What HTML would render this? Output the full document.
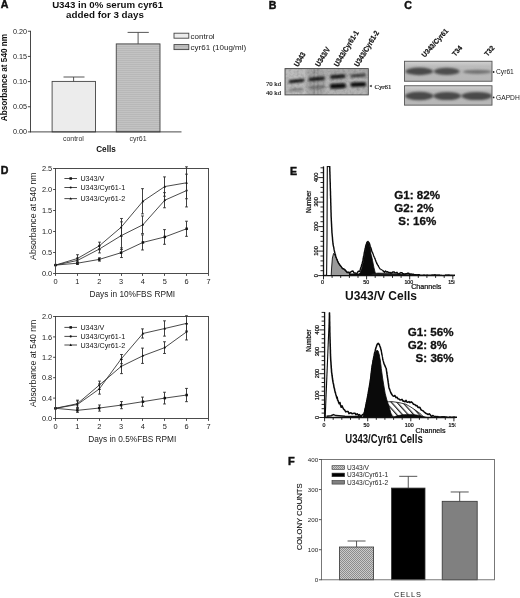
<!DOCTYPE html>
<html lang="en">
<head>
<meta charset="utf-8">
<title>Figure: Cyr61 promotes U343 glioma cell growth</title>
<style>
html,body{margin:0;padding:0;background:#fff;}
body{width:520px;height:598px;overflow:hidden;}
svg{display:block;}
svg text{font-family:"Liberation Sans", sans-serif;}
svg text.sf{font-family:"Liberation Serif", serif;}
</style>
</head>
<body>
<svg width="520" height="598" viewBox="0 0 520 598">
<defs>
<pattern id="hlines" width="2" height="2" patternUnits="userSpaceOnUse"><rect width="2" height="2" fill="#c3c3c3"/><rect y="0" width="2" height="1" fill="#b8b8b8"/></pattern>
<pattern id="xhatch" width="2" height="2" patternUnits="userSpaceOnUse"><rect width="2" height="2" fill="#cacaca"/><rect x="0" y="0" width="1" height="1" fill="#8c8c8c"/><rect x="1" y="1" width="1" height="1" fill="#8c8c8c"/></pattern>
<pattern id="diag" width="4.2" height="4.2" patternUnits="userSpaceOnUse" patternTransform="rotate(-42)"><rect width="4.2" height="4.2" fill="#fff"/><rect width="1.2" height="4.2" fill="#222"/></pattern>
<filter id="b1" x="-20%" y="-50%" width="140%" height="200%"><feGaussianBlur stdDeviation="1.1 0.9"/></filter>
<filter id="b2" x="-20%" y="-50%" width="140%" height="200%"><feGaussianBlur stdDeviation="1.6 1.2"/></filter>
<filter id="b05"><feGaussianBlur stdDeviation="0.45"/></filter>
<filter id="noise" x="0" y="0" width="100%" height="100%"><feTurbulence type="fractalNoise" baseFrequency="0.35" numOctaves="2" seed="7" result="n"/><feColorMatrix type="matrix" values="0 0 0 0 0  0 0 0 0 0  0 0 0 0 0  0.9 0 0 0 -0.35"/></filter>
<linearGradient id="gC" x1="0" y1="0" x2="0" y2="1"><stop offset="0" stop-color="#d2d2d2"/><stop offset="0.25" stop-color="#bcbcbc"/><stop offset="1" stop-color="#b6b6b6"/></linearGradient>
</defs>

<rect x="0" y="0" width="520" height="598" fill="#ffffff"/>
<g id="panelA">
<text x="0.7" y="8.2" font-size="10.6" font-weight="700" fill="#111" stroke="#111" stroke-width="0.45">A</text>
<text x="107.6" y="7.7" font-size="9.7" font-weight="700" text-anchor="middle" fill="#111">U343 in 0% serum cyr61</text>
<text x="105" y="18.2" font-size="9.8" font-weight="700" text-anchor="middle" fill="#111">added for 3 days</text>
<text x="6.9" y="77.6" font-size="8.2" font-weight="700" text-anchor="middle" fill="#111" transform="rotate(-90 6.9 77.6)">Absorbance at 540 nm</text>
<rect x="52.1" y="81.4" width="43.4" height="50.5" fill="#ececec" stroke="#444" stroke-width="0.9"/>
<rect x="116.25" y="43.9" width="43.75" height="88.0" fill="url(#hlines)" stroke="#444" stroke-width="0.9"/>
<line x1="73.6" y1="77" x2="73.6" y2="81.5" stroke="#444" stroke-width="0.9"/>
<line x1="63.5" y1="77" x2="84.5" y2="77" stroke="#444" stroke-width="0.9"/>
<line x1="138.1" y1="32.4" x2="138.1" y2="43.9" stroke="#444" stroke-width="0.9"/>
<line x1="127.6" y1="32.4" x2="148.8" y2="32.4" stroke="#444" stroke-width="0.9"/>
<line x1="30.5" y1="30.8" x2="30.5" y2="132.3" stroke="#333" stroke-width="0.9"/>
<line x1="30.1" y1="131.9" x2="181.5" y2="131.9" stroke="#333" stroke-width="0.9"/>
<line x1="27.9" y1="131.9" x2="30.5" y2="131.9" stroke="#333" stroke-width="0.9"/>
<text x="27.1" y="134.45" font-size="7.2" text-anchor="end" fill="#222">0.00</text>
<line x1="27.9" y1="106.74000000000001" x2="30.5" y2="106.74000000000001" stroke="#333" stroke-width="0.9"/>
<text x="27.1" y="109.29" font-size="7.2" text-anchor="end" fill="#222">0.05</text>
<line x1="27.9" y1="81.58000000000001" x2="30.5" y2="81.58000000000001" stroke="#333" stroke-width="0.9"/>
<text x="27.1" y="84.13" font-size="7.2" text-anchor="end" fill="#222">0.10</text>
<line x1="27.9" y1="56.42" x2="30.5" y2="56.42" stroke="#333" stroke-width="0.9"/>
<text x="27.1" y="58.97" font-size="7.2" text-anchor="end" fill="#222">0.15</text>
<line x1="27.9" y1="31.260000000000005" x2="30.5" y2="31.260000000000005" stroke="#333" stroke-width="0.9"/>
<text x="27.1" y="33.81" font-size="7.2" text-anchor="end" fill="#222">0.20</text>
<text x="73.4" y="141.2" font-size="7" text-anchor="middle" fill="#333">control</text>
<text x="138.1" y="141.2" font-size="7" text-anchor="middle" fill="#333">cyr61</text>
<text x="106" y="151.8" font-size="8.2" font-weight="700" text-anchor="middle" fill="#111">Cells</text>
<rect x="174" y="33.2" width="14.8" height="5" fill="#ececec" stroke="#444" stroke-width="0.9"/>
<rect x="174" y="44.6" width="14.8" height="5" fill="url(#hlines)" stroke="#444" stroke-width="0.9"/>
<text x="190.6" y="38.6" font-size="8" fill="#222">control</text>
<text x="190.6" y="50.2" font-size="8" fill="#222">cyr61 (10ug/ml)</text>
</g>
<g id="panelB">
<text x="268.7" y="8.6" font-size="10.6" font-weight="700" fill="#111" stroke="#111" stroke-width="0.45">B</text>
<text font-size="7.7" font-weight="700" fill="#111" stroke="#111" stroke-width="0.2" transform="translate(298 67.2) rotate(-58.5) scale(0.83 1)">U343</text>
<text font-size="7.7" font-weight="700" fill="#111" stroke="#111" stroke-width="0.2" transform="translate(319.3 67.2) rotate(-58.5) scale(0.83 1)">U343/V</text>
<text font-size="7.7" font-weight="700" fill="#111" stroke="#111" stroke-width="0.2" transform="translate(337.9 67.2) rotate(-58.5) scale(0.83 1)">U343/Cyr61-1</text>
<text font-size="7.7" font-weight="700" fill="#111" stroke="#111" stroke-width="0.2" transform="translate(358.3 67.2) rotate(-58.5) scale(0.83 1)">U343/Cyr61-2</text>
<clipPath id="clipB"><rect x="285" y="68.6" width="83.30000000000001" height="26.30000000000001"/></clipPath>
<rect x="285" y="68.6" width="83.30000000000001" height="26.30000000000001" fill="#b4b4b4" stroke="none" stroke-width="1"/>
<g clip-path="url(#clipB)">
<rect x="286" y="69" width="20" height="26" fill="#bdbdbd" stroke="none" stroke-width="1" filter="url(#b2)"/>
<rect x="307" y="69" width="18" height="26" fill="#a6a6a6" stroke="none" stroke-width="1" filter="url(#b2)"/>
<rect x="313.5" y="69" width="1.2" height="26" fill="#8e8e8e" stroke="none" stroke-width="1" filter="url(#b05)"/>
<rect x="317.3" y="69" width="1.2" height="26" fill="#929292" stroke="none" stroke-width="1" filter="url(#b05)"/>
<rect x="328" y="69" width="40" height="9" fill="#a9a9a9" stroke="none" stroke-width="1" filter="url(#b2)"/>
<rect x="288.5" y="79.2" width="16.0" height="3.6" rx="1.8" fill="#1a1a1a" opacity="1" filter="url(#b1)" transform="rotate(-6 296.5 81)"/>
<rect x="288.5" y="88.3" width="15.0" height="3.0" rx="1.5" fill="#787878" opacity="0.9" filter="url(#b2)" transform="rotate(-4 296.0 89.8)"/>
<rect x="308.5" y="76.89999999999999" width="16.5" height="3.8" rx="1.9" fill="#1a1a1a" opacity="1" filter="url(#b1)" transform="rotate(-5 316.75 78.8)"/>
<rect x="309" y="85.7" width="15.5" height="3.0" rx="1.5" fill="#686868" opacity="0.9" filter="url(#b2)" transform="rotate(-4 316.75 87.2)"/>
<rect x="330" y="74.69999999999999" width="15.5" height="3.8" rx="1.9" fill="#141414" opacity="1" filter="url(#b1)" transform="rotate(-5 337.75 76.6)"/>
<rect x="329.8" y="83.5" width="16.19999999999999" height="5.0" rx="2.5" fill="#080808" opacity="1" filter="url(#b1)" transform="rotate(-3 337.9 86)"/>
<rect x="350.4" y="73.9" width="15.600000000000023" height="3.0" rx="1.5" fill="#3a3a3a" opacity="1" filter="url(#b1)" transform="rotate(-4 358.2 75.4)"/>
<rect x="350.4" y="82.3" width="15.800000000000011" height="4.4" rx="2.2" fill="#0a0a0a" opacity="1" filter="url(#b1)" transform="rotate(-2 358.29999999999995 84.5)"/>
<rect x="285" y="68.6" width="83.30000000000001" height="26.30000000000001" fill="#888" stroke="none" stroke-width="1" filter="url(#noise)" opacity="0.3"/>
</g>
<rect x="285" y="68.6" width="83.30000000000001" height="26.30000000000001" fill="none" stroke="#444" stroke-width="0.9"/>
<text x="266" y="85.6" font-size="6.7" fill="#111" class="sf" stroke="#111" stroke-width="0.15">70 kd</text>
<text x="266" y="95.4" font-size="6.7" fill="#111" class="sf" stroke="#111" stroke-width="0.15">40 kd</text>
<path d="M369.4 86 L371.6 84.8 L371.6 87.2 Z" fill="#111"/>
<text x="374.4" y="89" font-size="6.8" fill="#111" class="sf" stroke="#111" stroke-width="0.15">Cyr61</text>
</g>
<g id="panelC">
<text x="404.3" y="8.6" font-size="10.6" font-weight="700" fill="#111" stroke="#111" stroke-width="0.45">C</text>
<text font-size="7.2" font-weight="700" fill="#111" stroke="#111" stroke-width="0.2" transform="translate(424.8 57.8) rotate(-48) scale(0.91 1)">U343/Cyr61</text>
<text font-size="7.2" font-weight="700" fill="#111" stroke="#111" stroke-width="0.2" transform="translate(455.2 56.8) rotate(-48) scale(0.91 1)">T34</text>
<text font-size="7.2" font-weight="700" fill="#111" stroke="#111" stroke-width="0.2" transform="translate(487.4 56.8) rotate(-48) scale(0.91 1)">T32</text>
<clipPath id="clipC1"><rect x="404.5" y="61.25" width="87.5" height="20"/></clipPath>
<clipPath id="clipC2"><rect x="404.5" y="85.75" width="87.5" height="19.4"/></clipPath>
<rect x="404.5" y="61.25" width="87.5" height="20" fill="url(#gC)" stroke="none" stroke-width="1"/>
<g clip-path="url(#clipC1)">
<ellipse cx="419.25" cy="71.4" rx="13.75" ry="3.8000000000000003" fill="#4a4a4a" opacity="1" filter="url(#b2)"/>
<ellipse cx="446.75" cy="71.4" rx="12.75" ry="3.6" fill="#4e4e4e" opacity="1" filter="url(#b2)"/>
<ellipse cx="477.25" cy="71.8" rx="14.25" ry="2.1" fill="#6c6c6c" opacity="0.9" filter="url(#b2)"/>
</g>
<rect x="404.5" y="61.25" width="87.5" height="20" fill="none" stroke="#555" stroke-width="0.9"/>
<rect x="404.5" y="85.75" width="87.5" height="19.4" fill="url(#gC)" stroke="none" stroke-width="1"/>
<g clip-path="url(#clipC2)">
<ellipse cx="419.25" cy="96" rx="14.25" ry="4.2" fill="#484848" opacity="1" filter="url(#b2)"/>
<ellipse cx="447.25" cy="96" rx="13.75" ry="4.1" fill="#4a4a4a" opacity="1" filter="url(#b2)"/>
<ellipse cx="476.75" cy="96" rx="15.25" ry="4.1" fill="#484848" opacity="1" filter="url(#b2)"/>
</g>
<rect x="404.5" y="85.75" width="87.5" height="19.4" fill="none" stroke="#555" stroke-width="0.9"/>
<circle cx="493.6" cy="72" r="0.9" fill="#222"/>
<text x="496" y="74.4" font-size="6.7" fill="#222">Cyr61</text>
<circle cx="493.6" cy="97.4" r="0.9" fill="#222"/>
<text x="496" y="99.9" font-size="6.7" fill="#222">GAPDH</text>
</g>
<g id="panelD">
<text x="0.8" y="174.1" font-size="10.6" font-weight="700" fill="#111" stroke="#111" stroke-width="0.45">D</text>
<g id="chartD1">
<polyline points="55.50,265.10 77.36,263.21 99.21,259.43 121.07,252.71 142.93,242.42 164.79,236.96 186.64,228.77" fill="none" stroke="#2a2a2a" stroke-width="0.85"/>
<path d="M77.50 261.95V264.47M76.10 261.95h2.8M76.10 264.47h2.8" stroke="#2a2a2a" stroke-width="0.9" fill="none"/>
<path d="M99.50 257.75V261.11M98.10 257.75h2.8M98.10 261.11h2.8" stroke="#2a2a2a" stroke-width="0.9" fill="none"/>
<path d="M121.50 247.88V257.54M120.10 247.88h2.8M120.10 257.54h2.8" stroke="#2a2a2a" stroke-width="0.9" fill="none"/>
<path d="M142.50 234.86V249.98M141.10 234.86h2.8M141.10 249.98h2.8" stroke="#2a2a2a" stroke-width="0.9" fill="none"/>
<path d="M164.50 229.61V244.31M163.10 229.61h2.8M163.10 244.31h2.8" stroke="#2a2a2a" stroke-width="0.9" fill="none"/>
<path d="M186.50 221.21V236.33M185.10 221.21h2.8M185.10 236.33h2.8" stroke="#2a2a2a" stroke-width="0.9" fill="none"/>
<rect x="54.25" y="263.85" width="2.5" height="2.5" fill="#111"/>
<rect x="76.11" y="261.96" width="2.5" height="2.5" fill="#111"/>
<rect x="97.96" y="258.18" width="2.5" height="2.5" fill="#111"/>
<rect x="119.82" y="251.46" width="2.5" height="2.5" fill="#111"/>
<rect x="141.68" y="241.17" width="2.5" height="2.5" fill="#111"/>
<rect x="163.54" y="235.71" width="2.5" height="2.5" fill="#111"/>
<rect x="185.39" y="227.52" width="2.5" height="2.5" fill="#111"/>
<polyline points="55.50,265.10 77.36,260.48 99.21,249.14 121.07,235.70 142.93,224.78 164.79,200.21 186.64,190.55" fill="none" stroke="#2a2a2a" stroke-width="0.85"/>
<path d="M77.50 257.96V263.00M76.10 257.96h2.8M76.10 263.00h2.8" stroke="#2a2a2a" stroke-width="0.9" fill="none"/>
<path d="M99.50 245.36V252.92M98.10 245.36h2.8M98.10 252.92h2.8" stroke="#2a2a2a" stroke-width="0.9" fill="none"/>
<path d="M121.50 221.84V249.56M120.10 221.84h2.8M120.10 249.56h2.8" stroke="#2a2a2a" stroke-width="0.9" fill="none"/>
<path d="M142.50 215.96V233.60M141.10 215.96h2.8M141.10 233.60h2.8" stroke="#2a2a2a" stroke-width="0.9" fill="none"/>
<path d="M164.50 192.65V207.77M163.10 192.65h2.8M163.10 207.77h2.8" stroke="#2a2a2a" stroke-width="0.9" fill="none"/>
<path d="M186.50 174.17V206.93M185.10 174.17h2.8M185.10 206.93h2.8" stroke="#2a2a2a" stroke-width="0.9" fill="none"/>
<circle cx="55.50" cy="265.10" r="1.05" fill="#111"/>
<circle cx="77.36" cy="260.48" r="1.05" fill="#111"/>
<circle cx="99.21" cy="249.14" r="1.05" fill="#111"/>
<circle cx="121.07" cy="235.70" r="1.05" fill="#111"/>
<circle cx="142.93" cy="224.78" r="1.05" fill="#111"/>
<circle cx="164.79" cy="200.21" r="1.05" fill="#111"/>
<circle cx="186.64" cy="190.55" r="1.05" fill="#111"/>
<polyline points="55.50,265.10 77.36,258.51 99.21,245.95 121.07,227.30 142.93,201.26 164.79,186.56 186.64,182.78" fill="none" stroke="#2a2a2a" stroke-width="0.85"/>
<path d="M77.50 254.73V262.29M76.10 254.73h2.8M76.10 262.29h2.8" stroke="#2a2a2a" stroke-width="0.9" fill="none"/>
<path d="M99.50 242.17V249.73M98.10 242.17h2.8M98.10 249.73h2.8" stroke="#2a2a2a" stroke-width="0.9" fill="none"/>
<path d="M121.50 218.48V236.12M120.10 218.48h2.8M120.10 236.12h2.8" stroke="#2a2a2a" stroke-width="0.9" fill="none"/>
<path d="M142.50 188.66V213.86M141.10 188.66h2.8M141.10 213.86h2.8" stroke="#2a2a2a" stroke-width="0.9" fill="none"/>
<path d="M164.50 176.90V196.22M163.10 176.90h2.8M163.10 196.22h2.8" stroke="#2a2a2a" stroke-width="0.9" fill="none"/>
<path d="M186.50 166.82V198.74M185.10 166.82h2.8M185.10 198.74h2.8" stroke="#2a2a2a" stroke-width="0.9" fill="none"/>
<path d="M55.50 263.70l1.3 2.4h-2.6z" fill="#111"/>
<path d="M77.36 257.11l1.3 2.4h-2.6z" fill="#111"/>
<path d="M99.21 244.55l1.3 2.4h-2.6z" fill="#111"/>
<path d="M121.07 225.90l1.3 2.4h-2.6z" fill="#111"/>
<path d="M142.93 199.86l1.3 2.4h-2.6z" fill="#111"/>
<path d="M164.79 185.16l1.3 2.4h-2.6z" fill="#111"/>
<path d="M186.64 181.38l1.3 2.4h-2.6z" fill="#111"/>
<rect x="55.5" y="168.5" width="153.0" height="105.0" fill="none" stroke="#3a3a3a" stroke-width="0.9"/>
<line x1="53.1" y1="273.5" x2="55.5" y2="273.5" stroke="#3a3a3a" stroke-width="0.9"/>
<text x="52.2" y="276.1" font-size="7.4" text-anchor="end" fill="#222">0.0</text>
<line x1="53.1" y1="252.5" x2="55.5" y2="252.5" stroke="#3a3a3a" stroke-width="0.9"/>
<text x="52.2" y="255.1" font-size="7.4" text-anchor="end" fill="#222">0.5</text>
<line x1="53.1" y1="231.5" x2="55.5" y2="231.5" stroke="#3a3a3a" stroke-width="0.9"/>
<text x="52.2" y="234.1" font-size="7.4" text-anchor="end" fill="#222">1.0</text>
<line x1="53.1" y1="210.5" x2="55.5" y2="210.5" stroke="#3a3a3a" stroke-width="0.9"/>
<text x="52.2" y="213.1" font-size="7.4" text-anchor="end" fill="#222">1.5</text>
<line x1="53.1" y1="189.5" x2="55.5" y2="189.5" stroke="#3a3a3a" stroke-width="0.9"/>
<text x="52.2" y="192.1" font-size="7.4" text-anchor="end" fill="#222">2.0</text>
<line x1="53.1" y1="168.5" x2="55.5" y2="168.5" stroke="#3a3a3a" stroke-width="0.9"/>
<text x="52.2" y="171.1" font-size="7.4" text-anchor="end" fill="#222">2.5</text>
<line x1="55.5" y1="273.5" x2="55.5" y2="275.9" stroke="#3a3a3a" stroke-width="0.9"/>
<text x="55.5" y="284.2" font-size="7.4" text-anchor="middle" fill="#222">0</text>
<line x1="77.5" y1="273.5" x2="77.5" y2="275.9" stroke="#3a3a3a" stroke-width="0.9"/>
<text x="77.36" y="284.2" font-size="7.4" text-anchor="middle" fill="#222">1</text>
<line x1="99.5" y1="273.5" x2="99.5" y2="275.9" stroke="#3a3a3a" stroke-width="0.9"/>
<text x="99.21" y="284.2" font-size="7.4" text-anchor="middle" fill="#222">2</text>
<line x1="121.5" y1="273.5" x2="121.5" y2="275.9" stroke="#3a3a3a" stroke-width="0.9"/>
<text x="121.07" y="284.2" font-size="7.4" text-anchor="middle" fill="#222">3</text>
<line x1="142.5" y1="273.5" x2="142.5" y2="275.9" stroke="#3a3a3a" stroke-width="0.9"/>
<text x="142.93" y="284.2" font-size="7.4" text-anchor="middle" fill="#222">4</text>
<line x1="164.5" y1="273.5" x2="164.5" y2="275.9" stroke="#3a3a3a" stroke-width="0.9"/>
<text x="164.79" y="284.2" font-size="7.4" text-anchor="middle" fill="#222">5</text>
<line x1="186.5" y1="273.5" x2="186.5" y2="275.9" stroke="#3a3a3a" stroke-width="0.9"/>
<text x="186.64" y="284.2" font-size="7.4" text-anchor="middle" fill="#222">6</text>
<line x1="208.5" y1="273.5" x2="208.5" y2="275.9" stroke="#3a3a3a" stroke-width="0.9"/>
<text x="208.5" y="284.2" font-size="7.4" text-anchor="middle" fill="#222">7</text>
<text x="132.3" y="297.2" font-size="8.3" text-anchor="middle" fill="#222">Days in 10%FBS RPMI</text>
<text x="36.3" y="216.2" font-size="8.7" text-anchor="middle" fill="#222" transform="rotate(-90 36.3 216.2)">Absorbance at 540 nm</text>
<line x1="64.4" y1="178.5" x2="77" y2="178.5" stroke="#2a2a2a" stroke-width="0.85"/>
<rect x="69.45" y="177.25" width="2.5" height="2.5" fill="#111"/>
<text x="80.4" y="181.1" font-size="7.2" fill="#111">U343/V</text>
<line x1="64.4" y1="187.5" x2="77" y2="187.5" stroke="#2a2a2a" stroke-width="0.85"/>
<circle cx="70.70" cy="187.50" r="1.05" fill="#111"/>
<text x="80.4" y="190.1" font-size="7.2" fill="#111">U343/Cyr61-1</text>
<line x1="64.4" y1="198.6" x2="77" y2="198.6" stroke="#2a2a2a" stroke-width="0.85"/>
<path d="M70.70 197.20l1.3 2.4h-2.6z" fill="#111"/>
<text x="80.4" y="201.2" font-size="7.2" fill="#111">U343/Cyr61-2</text>
</g>
<g id="chartD2">
<polyline points="55.50,408.30 77.36,410.34 99.21,408.05 121.07,405.14 142.93,401.67 164.79,398.10 186.64,395.04" fill="none" stroke="#2a2a2a" stroke-width="0.85"/>
<path d="M77.50 408.30V412.38M76.10 408.30h2.8M76.10 412.38h2.8" stroke="#2a2a2a" stroke-width="0.9" fill="none"/>
<path d="M99.50 404.99V411.11M98.10 404.99h2.8M98.10 411.11h2.8" stroke="#2a2a2a" stroke-width="0.9" fill="none"/>
<path d="M121.50 401.57V408.71M120.10 401.57h2.8M120.10 408.71h2.8" stroke="#2a2a2a" stroke-width="0.9" fill="none"/>
<path d="M142.50 397.08V406.26M141.10 397.08h2.8M141.10 406.26h2.8" stroke="#2a2a2a" stroke-width="0.9" fill="none"/>
<path d="M164.50 392.24V403.96M163.10 392.24h2.8M163.10 403.96h2.8" stroke="#2a2a2a" stroke-width="0.9" fill="none"/>
<path d="M186.50 388.41V401.67M185.10 388.41h2.8M185.10 401.67h2.8" stroke="#2a2a2a" stroke-width="0.9" fill="none"/>
<rect x="54.25" y="407.05" width="2.5" height="2.5" fill="#111"/>
<rect x="76.11" y="409.09" width="2.5" height="2.5" fill="#111"/>
<rect x="97.96" y="406.80" width="2.5" height="2.5" fill="#111"/>
<rect x="119.82" y="403.89" width="2.5" height="2.5" fill="#111"/>
<rect x="141.68" y="400.42" width="2.5" height="2.5" fill="#111"/>
<rect x="163.54" y="396.85" width="2.5" height="2.5" fill="#111"/>
<rect x="185.39" y="393.79" width="2.5" height="2.5" fill="#111"/>
<polyline points="55.50,408.30 77.36,403.71 99.21,385.20 121.07,366.48 142.93,355.77 164.79,347.61 186.64,331.80" fill="none" stroke="#2a2a2a" stroke-width="0.85"/>
<path d="M77.50 400.14V407.28M76.10 400.14h2.8M76.10 407.28h2.8" stroke="#2a2a2a" stroke-width="0.9" fill="none"/>
<path d="M99.50 381.12V389.28M98.10 381.12h2.8M98.10 389.28h2.8" stroke="#2a2a2a" stroke-width="0.9" fill="none"/>
<path d="M121.50 359.34V373.62M120.10 359.34h2.8M120.10 373.62h2.8" stroke="#2a2a2a" stroke-width="0.9" fill="none"/>
<path d="M142.50 348.12V363.42M141.10 348.12h2.8M141.10 363.42h2.8" stroke="#2a2a2a" stroke-width="0.9" fill="none"/>
<path d="M164.50 341.75V353.48M163.10 341.75h2.8M163.10 353.48h2.8" stroke="#2a2a2a" stroke-width="0.9" fill="none"/>
<path d="M186.50 323.64V339.96M185.10 323.64h2.8M185.10 339.96h2.8" stroke="#2a2a2a" stroke-width="0.9" fill="none"/>
<circle cx="55.50" cy="408.30" r="1.05" fill="#111"/>
<circle cx="77.36" cy="403.71" r="1.05" fill="#111"/>
<circle cx="99.21" cy="385.20" r="1.05" fill="#111"/>
<circle cx="121.07" cy="366.48" r="1.05" fill="#111"/>
<circle cx="142.93" cy="355.77" r="1.05" fill="#111"/>
<circle cx="164.79" cy="347.61" r="1.05" fill="#111"/>
<circle cx="186.64" cy="331.80" r="1.05" fill="#111"/>
<polyline points="55.50,408.30 77.36,404.53 99.21,389.02 121.07,359.08 142.93,333.48 164.79,328.49 186.64,323.38" fill="none" stroke="#2a2a2a" stroke-width="0.85"/>
<path d="M77.50 400.96V408.10M76.10 400.96h2.8M76.10 408.10h2.8" stroke="#2a2a2a" stroke-width="0.9" fill="none"/>
<path d="M99.50 383.92V394.12M98.10 383.92h2.8M98.10 394.12h2.8" stroke="#2a2a2a" stroke-width="0.9" fill="none"/>
<path d="M121.50 354.50V363.68M120.10 354.50h2.8M120.10 363.68h2.8" stroke="#2a2a2a" stroke-width="0.9" fill="none"/>
<path d="M142.50 328.89V338.07M141.10 328.89h2.8M141.10 338.07h2.8" stroke="#2a2a2a" stroke-width="0.9" fill="none"/>
<path d="M164.50 320.84V336.13M163.10 320.84h2.8M163.10 336.13h2.8" stroke="#2a2a2a" stroke-width="0.9" fill="none"/>
<path d="M186.50 315.74V331.03M185.10 315.74h2.8M185.10 331.03h2.8" stroke="#2a2a2a" stroke-width="0.9" fill="none"/>
<path d="M55.50 406.90l1.3 2.4h-2.6z" fill="#111"/>
<path d="M77.36 403.13l1.3 2.4h-2.6z" fill="#111"/>
<path d="M99.21 387.62l1.3 2.4h-2.6z" fill="#111"/>
<path d="M121.07 357.69l1.3 2.4h-2.6z" fill="#111"/>
<path d="M142.93 332.08l1.3 2.4h-2.6z" fill="#111"/>
<path d="M164.79 327.09l1.3 2.4h-2.6z" fill="#111"/>
<path d="M186.64 321.99l1.3 2.4h-2.6z" fill="#111"/>
<rect x="55.5" y="316.5" width="153.0" height="102.0" fill="none" stroke="#3a3a3a" stroke-width="0.9"/>
<line x1="53.1" y1="418.5" x2="55.5" y2="418.5" stroke="#3a3a3a" stroke-width="0.9"/>
<text x="52.2" y="421.1" font-size="7.4" text-anchor="end" fill="#222">0.0</text>
<line x1="53.1" y1="398.1" x2="55.5" y2="398.1" stroke="#3a3a3a" stroke-width="0.9"/>
<text x="52.2" y="400.7" font-size="7.4" text-anchor="end" fill="#222">0.4</text>
<line x1="53.1" y1="377.7" x2="55.5" y2="377.7" stroke="#3a3a3a" stroke-width="0.9"/>
<text x="52.2" y="380.3" font-size="7.4" text-anchor="end" fill="#222">0.8</text>
<line x1="53.1" y1="357.3" x2="55.5" y2="357.3" stroke="#3a3a3a" stroke-width="0.9"/>
<text x="52.2" y="359.9" font-size="7.4" text-anchor="end" fill="#222">1.2</text>
<line x1="53.1" y1="336.9" x2="55.5" y2="336.9" stroke="#3a3a3a" stroke-width="0.9"/>
<text x="52.2" y="339.5" font-size="7.4" text-anchor="end" fill="#222">1.6</text>
<line x1="53.1" y1="316.5" x2="55.5" y2="316.5" stroke="#3a3a3a" stroke-width="0.9"/>
<text x="52.2" y="319.1" font-size="7.4" text-anchor="end" fill="#222">2.0</text>
<line x1="55.5" y1="418.5" x2="55.5" y2="420.9" stroke="#3a3a3a" stroke-width="0.9"/>
<text x="55.5" y="429.2" font-size="7.4" text-anchor="middle" fill="#222">0</text>
<line x1="77.5" y1="418.5" x2="77.5" y2="420.9" stroke="#3a3a3a" stroke-width="0.9"/>
<text x="77.36" y="429.2" font-size="7.4" text-anchor="middle" fill="#222">1</text>
<line x1="99.5" y1="418.5" x2="99.5" y2="420.9" stroke="#3a3a3a" stroke-width="0.9"/>
<text x="99.21" y="429.2" font-size="7.4" text-anchor="middle" fill="#222">2</text>
<line x1="121.5" y1="418.5" x2="121.5" y2="420.9" stroke="#3a3a3a" stroke-width="0.9"/>
<text x="121.07" y="429.2" font-size="7.4" text-anchor="middle" fill="#222">3</text>
<line x1="142.5" y1="418.5" x2="142.5" y2="420.9" stroke="#3a3a3a" stroke-width="0.9"/>
<text x="142.93" y="429.2" font-size="7.4" text-anchor="middle" fill="#222">4</text>
<line x1="164.5" y1="418.5" x2="164.5" y2="420.9" stroke="#3a3a3a" stroke-width="0.9"/>
<text x="164.79" y="429.2" font-size="7.4" text-anchor="middle" fill="#222">5</text>
<line x1="186.5" y1="418.5" x2="186.5" y2="420.9" stroke="#3a3a3a" stroke-width="0.9"/>
<text x="186.64" y="429.2" font-size="7.4" text-anchor="middle" fill="#222">6</text>
<line x1="208.5" y1="418.5" x2="208.5" y2="420.9" stroke="#3a3a3a" stroke-width="0.9"/>
<text x="208.5" y="429.2" font-size="7.4" text-anchor="middle" fill="#222">7</text>
<text x="132.3" y="442" font-size="8.3" text-anchor="middle" fill="#222">Days in 0.5%FBS RPMI</text>
<text x="36.3" y="363.4" font-size="8.7" text-anchor="middle" fill="#222" transform="rotate(-90 36.3 363.4)">Absorbance at 540 nm</text>
<line x1="64.4" y1="327.4" x2="77" y2="327.4" stroke="#2a2a2a" stroke-width="0.85"/>
<rect x="69.45" y="326.15" width="2.5" height="2.5" fill="#111"/>
<text x="80.4" y="330.0" font-size="7.2" fill="#111">U343/V</text>
<line x1="64.4" y1="336.4" x2="77" y2="336.4" stroke="#2a2a2a" stroke-width="0.85"/>
<circle cx="70.70" cy="336.40" r="1.05" fill="#111"/>
<text x="80.4" y="339.0" font-size="7.2" fill="#111">U343/Cyr61-1</text>
<line x1="64.4" y1="345" x2="77" y2="345" stroke="#2a2a2a" stroke-width="0.85"/>
<path d="M70.70 343.60l1.3 2.4h-2.6z" fill="#111"/>
<text x="80.4" y="347.6" font-size="7.2" fill="#111">U343/Cyr61-2</text>
</g>
</g>
<g id="panelE">
<text x="290" y="174.9" font-size="10.6" font-weight="700" fill="#111" stroke="#111" stroke-width="0.45">E</text>
<clipPath id="clipE1"><rect x="322" y="166.1" width="134" height="110.2"/></clipPath>
<g clip-path="url(#clipE1)" stroke-linejoin="round">
<path d="M331.2 275.6 L331.6 268.0 L332.4 258.0 L333.6 253.4 L335.0 255.2 L336.5 258.5 L338.2 262.4 L340.5 266.0 L343.5 269.4 L347.0 272.0 L350.0 273.8 L352.5 275.0 L352.5 275.6Z" fill="#9a9a9a" stroke="#111" stroke-width="0.9"/>
<path d="M358.6 275.2 L360.2 272.5 L361.8 268.4 L363.2 262.4 L364.6 254.4 L365.8 247.6 L366.8 243.6 L367.8 242.2 L368.9 243.6 L370.0 247.6 L371.3 253.8 L372.6 260.8 L373.9 267.4 L375.0 272.0 L376.2 275.2Z" fill="#0a0a0a" stroke="#0a0a0a" stroke-width="0.8"/>
<path d="M349 274.6H360" stroke="#0a0a0a" stroke-width="2"/>
<path d="M370.0 275.2 L373.0 273.6 L378.0 273.0 L386.0 273.2 L396.0 273.8 L408.0 274.6 L414.0 275.2Z" fill="#222" stroke="#111" stroke-width="0.6"/>
<path d="M327.2 166.6H329.8" stroke="#0a0a0a" stroke-width="1"/>
<path d="M324.4 275.4L326.6 275L327 240L327.3 166L327.4 150" fill="none" stroke="#0a0a0a" stroke-width="1.1"/>
<path d="M329.3 150.0 L329.3 150.8 L329.4 152.0 L329.4 152.9 L329.4 154.1 L329.4 155.1 L329.4 155.7 L329.5 156.7 L329.5 158.2 L329.5 158.9 L329.6 159.8 L329.6 161.3 L329.6 162.0 L329.6 163.2 L329.6 164.0 L329.7 165.1 L329.7 166.0 L329.7 166.8 L329.8 168.1 L329.8 169.2 L329.8 170.0 L329.8 171.1 L329.9 172.1 L329.9 172.7 L329.9 174.2 L330.0 175.1 L330.0 175.9 L330.0 176.7 L330.0 178.2 L330.1 179.0 L330.1 180.1 L330.1 181.2 L330.2 182.1 L330.2 183.3 L330.2 183.9 L330.3 185.2 L330.3 186.0 L330.3 187.3 L330.3 188.2 L330.4 188.8 L330.4 190.0 L330.4 190.8 L330.5 191.8 L330.5 193.3 L330.5 194.0 L330.5 195.1 L330.6 195.9 L330.6 197.0 L330.6 197.9 L330.7 198.9 L330.7 200.1 L330.7 201.1 L330.7 202.2 L330.8 203.1 L330.8 204.3 L330.8 205.2 L330.9 206.3 L330.9 207.1 L330.9 207.8 L330.9 209.2 L331.0 210.3 L331.0 211.2 L331.0 212.0 L331.1 213.1 L331.1 213.8 L331.1 215.2 L331.1 216.0 L331.2 216.9 L331.2 218.0 L331.3 218.7 L331.3 220.2 L331.4 221.3 L331.4 221.8 L331.5 223.2 L331.5 223.9 L331.6 224.8 L331.6 225.9 L331.7 227.2 L331.7 228.2 L331.8 228.7 L331.8 230.1 L331.9 230.7 L331.9 232.1 L332.0 233.0 L332.1 233.9 L332.2 235.2 L332.3 236.3 L332.4 237.0 L332.5 238.3 L332.5 238.9 L332.6 239.7 L332.7 241.1 L332.8 241.7 L332.9 242.8 L333.0 244.0 L333.2 244.9 L333.4 246.1 L333.6 246.8 L333.8 247.7 L334.0 249.2 L334.2 249.9 L334.4 251.0 L334.7 252.3 L334.9 253.2 L335.2 253.9 L335.5 255.0 L335.7 256.0 L336.0 257.0 L336.4 258.1 L336.8 259.1 L337.2 260.0 L337.6 261.1 L338.0 262.0 L338.7 263.5 L339.5 264.4 L340.2 265.6 L341.1 266.5 L342.1 268.2 L343.0 268.8 L344.0 269.0 L345.0 269.8 L346.0 271.0 L347.2 272.6 L348.3 272.1 L349.5 272.6 L350.8 272.0 L352.0 271.2 L353.0 271.0 L354.0 273.0 L355.0 272.9 L356.0 273.4 L357.0 273.4 L358.2 271.3 L359.5 271.4 L359.9 270.5 L360.4 269.2 L360.8 267.7 L361.2 266.8 L361.5 265.7 L361.8 264.5 L362.2 263.4 L362.5 262.1 L362.8 261.0 L363.0 260.0 L363.2 259.0 L363.4 257.5 L363.6 256.4 L363.8 255.7 L364.0 254.8 L364.2 253.4 L364.4 252.1 L364.7 251.1 L364.9 250.1 L365.1 248.8 L365.4 247.7 L365.6 246.6 L365.9 245.5 L366.2 244.5 L366.5 243.7 L366.8 242.6 L367.9 241.4 L369.2 243.0 L369.6 244.0 L369.9 245.1 L370.2 246.5 L370.6 247.4 L371.0 248.3 L371.4 249.7 L371.8 251.0 L372.2 252.0 L372.6 252.9 L373.0 253.9 L373.4 255.3 L373.8 256.2 L374.3 257.3 L374.9 258.5 L375.4 260.0 L375.8 261.0 L376.2 262.1 L376.6 262.8 L377.0 264.0 L377.6 264.9 L378.2 265.6 L378.8 267.0 L379.9 269.0 L381.0 269.6 L382.2 270.3 L383.5 271.2 L384.5 272.2 L385.5 271.0 L386.5 272.0 L387.7 271.8 L388.8 272.6 L390.0 272.4 L391.0 273.3 L392.0 272.5 L393.0 272.0 L394.0 271.9 L395.0 272.8 L396.0 272.9 L397.0 272.3 L398.0 273.7 L399.0 273.9 L400.0 273.2 L401.0 272.6 L402.0 272.8 L403.0 274.1 L404.0 273.8 L405.0 274.2 L406.0 273.6 L407.0 273.4 L408.0 273.1 L409.0 273.5 L410.0 274.8 L411.0 273.8 L412.0 274.4 L413.0 274.1 L414.0 274.4 L415.0 274.6 L416.0 274.6 L417.0 275.0 L418.0 274.6 L419.0 274.6 L420.0 275.0 L421.0 275.3 L422.0 275.2 L423.0 275.3 L424.0 275.0 L425.0 275.3 L426.0 275.3 L427.0 274.9 L428.0 275.2 L429.0 275.3 L430.0 275.2 L431.0 275.1 L432.0 274.9 L433.0 275.0 L434.0 274.9 L435.0 274.8 L436.0 275.1 L437.0 275.0 L438.0 275.3 L439.0 274.8 L440.0 275.4 L441.0 275.2 L442.0 275.4 L443.0 275.4 L444.0 275.4 L445.0 275.2 L446.0 274.9 L447.0 275.3 L448.0 275.0 L449.0 275.0 L450.0 275.3 L451.0 275.2 L452.0 275.1 L453.0 275.5 L454.0 275.3 L455.0 275.2" fill="none" stroke="#0a0a0a" stroke-width="1.45"/>
<path d="M371.3 252.5L373 257.5L375 262.5L377 266.5L379.5 269.5L382.5 271.2" fill="none" stroke="#fff" stroke-width="0.7"/>
</g>
<line x1="323.5" y1="166.4" x2="323.5" y2="276.1" stroke="#111" stroke-width="1.3"/>
<line x1="322.9" y1="275.6" x2="454.4" y2="275.6" stroke="#111" stroke-width="1.3"/>
<path d="M318.2 275.6H323.5M320.5 270.7H323.5M320.5 265.8H323.5M320.5 260.9H323.5M320.5 256.0H323.5M318.2 251.1H323.5M320.5 246.2H323.5M320.5 241.3H323.5M320.5 236.4H323.5M320.5 231.5H323.5M318.2 226.6H323.5M320.5 221.7H323.5M320.5 216.8H323.5M320.5 211.9H323.5M320.5 207.0H323.5M318.2 202.1H323.5M320.5 197.2H323.5M320.5 192.3H323.5M320.5 187.4H323.5M320.5 182.5H323.5M318.2 177.6H323.5M320.5 172.7H323.5M320.5 167.8H323.5" stroke="#111" stroke-width="0.9" fill="none"/>
<text x="317.9" y="250.9" font-size="5.7" text-anchor="middle" fill="#111" transform="rotate(-90 317.9 250.9)" stroke="#111" stroke-width="0.22">100</text>
<text x="317.9" y="226.4" font-size="5.7" text-anchor="middle" fill="#111" transform="rotate(-90 317.9 226.4)" stroke="#111" stroke-width="0.22">200</text>
<text x="317.9" y="201.8" font-size="5.7" text-anchor="middle" fill="#111" transform="rotate(-90 317.9 201.8)" stroke="#111" stroke-width="0.22">300</text>
<text x="317.9" y="177.3" font-size="5.7" text-anchor="middle" fill="#111" transform="rotate(-90 317.9 177.3)" stroke="#111" stroke-width="0.22">400</text>
<text x="311.0" y="201.9" font-size="6.3" text-anchor="middle" fill="#111" transform="rotate(-90 311.0 201.9)" stroke="#111" stroke-width="0.22">Number</text>
<path d="M323.5 275.6v3.8M332.1 275.6v2.3M340.7 275.6v2.3M349.4 275.6v2.3M358.0 275.6v2.3M366.6 275.6v3.8M375.2 275.6v2.3M383.8 275.6v2.3M392.5 275.6v2.3M401.1 275.6v2.3M409.7 275.6v3.8M418.3 275.6v2.3M426.9 275.6v2.3M435.6 275.6v2.3M444.2 275.6v2.3M452.8 275.6v3.8" stroke="#111" stroke-width="0.9" fill="none"/>
<clipPath id="cx275"><rect x="300" y="275.6" width="154.59999999999997" height="20"/></clipPath>
<g clip-path="url(#cx275)">
<text x="322.6" y="283.9" font-size="5.3" text-anchor="middle" fill="#111" stroke="#111" stroke-width="0.22">0</text>
<text x="366.3" y="283.9" font-size="5.3" text-anchor="middle" fill="#111" stroke="#111" stroke-width="0.22">50</text>
<text x="408.8" y="284.2" font-size="5.3" text-anchor="middle" fill="#111" stroke="#111" stroke-width="0.22">100</text>
<text x="452.6" y="284.2" font-size="5.3" text-anchor="middle" fill="#111" stroke="#111" stroke-width="0.22">150</text>
</g>
<text x="317.9" y="275.6" font-size="5.7" text-anchor="middle" fill="#111" transform="rotate(-90 317.9 275.6)" stroke="#111" stroke-width="0.22">0</text>
<text font-size="6.3" fill="#111" stroke="#111" stroke-width="0.22" transform="translate(411.2 289.3) scale(1.13 1)">Channels</text>
<text x="394.2" y="198.6" font-size="11.6" font-weight="700" fill="#111" stroke="#111" stroke-width="0.3">G1: 82%</text>
<text x="394.2" y="211.6" font-size="11.6" font-weight="700" fill="#111" stroke="#111" stroke-width="0.3">G2: 2%</text>
<text x="398.3" y="224.9" font-size="11.6" font-weight="700" fill="#111" stroke="#111" stroke-width="0.3">S: 16%</text>
<text x="381" y="300.2" font-size="12" font-weight="700" text-anchor="middle" fill="#111">U343/V Cells</text>
<clipPath id="clipE2"><rect x="323" y="311.5" width="134" height="106.6"/></clipPath>
<g clip-path="url(#clipE2)" stroke-linejoin="round">
<path d="M385.5 402.0 L392.0 401.6 L399.0 402.6 L405.8 404.2 L411.0 407.2 L416.0 410.6 L421.0 414.2 L424.0 417.5 L386.0 417.5Z" fill="url(#diag)" stroke="#111" stroke-width="0.8"/>
<path d="M362.6 417.5 L364.0 414.0 L365.6 407.0 L367.5 397.3 L369.2 388.0 L370.8 378.0 L371.8 368.5 L373.0 361.5 L374.4 355.6 L375.8 351.6 L377.2 350.0 L378.4 351.4 L379.6 356.0 L380.6 362.0 L381.3 368.5 L382.6 378.0 L383.9 386.0 L385.2 393.5 L386.6 399.0 L388.0 403.6 L390.0 410.0 L392.0 417.5Z" fill="#0a0a0a" stroke="#0a0a0a" stroke-width="0.8"/>
<path d="M392.0 417.5 L397.0 415.8 L402.0 414.8 L407.0 414.4 L412.0 414.4 L417.0 415.0 L422.0 416.0 L427.0 417.5Z" fill="#0a0a0a" stroke="#0a0a0a" stroke-width="0.6"/>
<path d="M326.5 416.2L331 415.8L333.5 414.6L336 415.6L345 416.2L362 416.4" fill="none" stroke="#111" stroke-width="1.5"/>
<path d="M325.2 417.2L329.5 312.6" fill="none" stroke="#0a0a0a" stroke-width="1.1"/>
<path d="M329.5 312.6 L329.5 313.7 L329.5 314.8 L329.6 315.8 L329.6 316.9 L329.6 317.8 L329.6 319.0 L329.6 319.4 L329.6 320.7 L329.7 322.0 L329.7 322.9 L329.7 324.0 L329.7 324.6 L329.7 325.8 L329.8 326.7 L329.8 327.9 L329.8 328.9 L329.8 329.6 L329.8 330.8 L329.8 331.8 L329.9 333.2 L329.9 334.1 L329.9 335.0 L329.9 335.8 L330.0 337.2 L330.0 337.8 L330.0 339.1 L330.1 339.8 L330.1 340.7 L330.1 342.2 L330.1 342.8 L330.2 343.8 L330.2 345.3 L330.2 346.2 L330.3 346.9 L330.3 348.3 L330.3 349.0 L330.4 350.1 L330.4 350.8 L330.4 352.3 L330.4 353.1 L330.5 354.3 L330.5 355.2 L330.5 355.9 L330.6 356.9 L330.6 358.0 L330.7 358.8 L330.7 359.8 L330.8 360.7 L330.9 361.9 L331.0 363.1 L331.0 363.7 L331.1 365.1 L331.2 365.9 L331.2 366.9 L331.3 368.2 L331.4 369.0 L331.5 369.9 L331.5 371.0 L331.6 372.0 L331.7 373.1 L331.9 373.7 L332.0 375.3 L332.1 375.7 L332.3 377.1 L332.4 378.2 L332.5 378.7 L332.7 380.2 L332.8 381.0 L333.0 381.9 L333.2 383.0 L333.4 383.7 L333.6 384.7 L333.8 385.8 L334.0 387.3 L334.2 388.0 L334.5 388.8 L334.7 390.2 L335.0 391.3 L335.2 392.3 L335.5 392.9 L335.7 393.9 L336.0 395.0 L336.4 396.2 L336.8 398.0 L337.2 397.1 L337.6 400.1 L338.0 400.4 L338.6 402.4 L339.2 403.8 L339.9 402.5 L340.5 405.0 L341.2 407.3 L342.0 405.8 L342.8 407.5 L343.5 409.0 L344.7 410.1 L345.8 411.9 L347.0 411.4 L348.0 411.4 L349.0 413.6 L350.0 413.0 L351.0 412.8 L352.0 413.8 L353.0 413.5 L354.0 413.3 L355.0 413.3 L356.0 414.8 L357.2 413.7 L358.4 415.2 L359.6 414.6 L360.8 416.4 L362.0 415.2 L363.0 414.4 L364.0 414.0 L364.2 412.7 L364.5 412.3 L364.7 411.0 L364.9 409.9 L365.1 408.8 L365.4 408.1 L365.6 407.0 L365.8 406.1 L366.0 404.8 L366.2 403.7 L366.4 402.4 L366.7 401.9 L366.9 400.3 L367.1 399.5 L367.3 398.6 L367.5 397.3 L367.7 396.0 L367.9 395.4 L368.1 394.5 L368.3 393.2 L368.4 392.3 L368.6 390.9 L368.8 390.0 L369.0 388.8 L369.2 388.0 L369.4 387.2 L369.5 385.9 L369.7 385.0 L369.8 384.3 L370.0 383.2 L370.2 382.3 L370.3 381.0 L370.5 380.0 L370.6 379.1 L370.8 378.0 L370.9 376.9 L371.0 375.8 L371.1 374.8 L371.2 373.6 L371.4 372.6 L371.5 372.0 L371.6 370.9 L371.7 369.6 L371.8 368.5 L372.0 367.4 L372.1 366.3 L372.3 365.1 L372.5 364.1 L372.7 363.4 L372.9 362.3 L373.0 361.0 L373.2 360.0 L373.4 359.2 L373.6 358.2 L373.8 357.1 L374.0 356.1 L374.2 355.2 L374.4 353.9 L374.6 353.0 L374.9 352.0 L375.2 350.7 L375.4 349.7 L375.7 348.8 L376.0 347.5 L376.4 346.6 L376.8 345.3 L377.2 344.4 L378.2 343.4 L379.4 344.6 L379.8 346.0 L380.2 347.0 L380.6 348.0 L380.8 349.0 L381.0 349.7 L381.2 351.0 L381.4 351.9 L381.6 353.1 L381.8 354.0 L382.0 355.1 L382.2 356.4 L382.4 357.3 L382.6 358.5 L382.8 359.3 L383.0 360.5 L383.4 361.7 L383.8 362.9 L384.2 364.1 L384.6 365.0 L385.1 366.1 L385.7 367.5 L386.2 368.5 L386.4 369.8 L386.5 370.7 L386.7 372.0 L386.8 373.0 L387.0 373.8 L387.1 374.9 L387.3 375.7 L387.4 377.1 L387.6 378.0 L387.8 379.3 L387.9 380.1 L388.1 381.3 L388.2 382.4 L388.4 383.5 L388.5 384.3 L388.7 385.7 L388.8 386.7 L389.0 387.7 L389.4 388.9 L389.8 389.8 L390.2 391.0 L390.6 392.1 L391.0 393.0 L391.9 394.5 L392.9 395.9 L393.8 396.3 L394.9 395.5 L396.0 397.6 L397.0 397.2 L398.0 398.8 L399.0 399.0 L400.0 399.9 L401.0 399.8 L402.0 399.4 L403.0 401.2 L404.0 401.0 L405.0 401.8 L406.0 400.4 L407.0 402.2 L408.0 402.2 L409.0 401.6 L410.0 402.6 L411.2 401.8 L412.3 402.6 L413.5 404.2 L414.8 404.5 L416.0 405.8 L417.0 405.6 L418.0 407.4 L419.0 407.3 L420.0 407.6 L421.0 409.8 L422.1 410.4 L423.1 410.9 L424.2 412.0 L425.6 413.2 L427.0 413.8 L428.1 414.5 L429.3 413.8 L430.4 415.0 L431.5 416.6 L432.7 415.5 L433.9 416.1 L435.0 416.6 L436.0 416.5 L437.0 416.7 L438.0 416.6 L439.0 417.1 L440.0 417.0 L441.0 416.9 L442.0 416.8 L443.0 417.1 L444.0 416.8 L445.0 417.1 L446.0 417.0 L447.0 417.2 L448.0 417.4 L449.0 417.3 L450.0 417.1 L451.0 417.4 L452.0 417.3 L453.0 417.2 L454.0 417.0 L455.0 417.3 L456.0 417.3 L457.0 417.3" fill="none" stroke="#0a0a0a" stroke-width="1.55"/>
<path d="M379.4 349.5L380.6 354.5L381.8 361L382.9 368L384 375L385.4 384L386.8 391.5" fill="none" stroke="#fff" stroke-width="0.9"/>
</g>
<line x1="324.6" y1="312" x2="324.6" y2="418.0" stroke="#111" stroke-width="1.3"/>
<line x1="324.0" y1="417.5" x2="455.4" y2="417.5" stroke="#111" stroke-width="1.3"/>
<path d="M319.3 417.5H324.6M321.6 413.1H324.6M321.6 408.7H324.6M321.6 404.4H324.6M321.6 400.0H324.6M319.3 395.6H324.6M321.6 391.2H324.6M321.6 386.8H324.6M321.6 382.5H324.6M321.6 378.1H324.6M319.3 373.7H324.6M321.6 369.3H324.6M321.6 364.9H324.6M321.6 360.6H324.6M321.6 356.2H324.6M319.3 351.8H324.6M321.6 347.4H324.6M321.6 343.0H324.6M321.6 338.7H324.6M321.6 334.3H324.6M319.3 329.9H324.6M321.6 325.5H324.6M321.6 321.1H324.6M321.6 316.8H324.6M321.6 312.4H324.6" stroke="#111" stroke-width="0.9" fill="none"/>
<text x="318.9" y="395.4" font-size="5.7" text-anchor="middle" fill="#111" transform="rotate(-90 318.9 395.4)" stroke="#111" stroke-width="0.22">100</text>
<text x="318.9" y="373.5" font-size="5.7" text-anchor="middle" fill="#111" transform="rotate(-90 318.9 373.5)" stroke="#111" stroke-width="0.22">200</text>
<text x="318.9" y="351.6" font-size="5.7" text-anchor="middle" fill="#111" transform="rotate(-90 318.9 351.6)" stroke="#111" stroke-width="0.22">300</text>
<text x="318.9" y="329.7" font-size="5.7" text-anchor="middle" fill="#111" transform="rotate(-90 318.9 329.7)" stroke="#111" stroke-width="0.22">400</text>
<text x="311.3" y="340.6" font-size="6.3" text-anchor="middle" fill="#111" transform="rotate(-90 311.3 340.6)" stroke="#111" stroke-width="0.22">Number</text>
<path d="M324.6 417.5v3.8M333.2 417.5v2.3M341.8 417.5v2.3M350.5 417.5v2.3M359.1 417.5v2.3M367.7 417.5v3.8M376.3 417.5v2.3M384.9 417.5v2.3M393.6 417.5v2.3M402.2 417.5v2.3M410.8 417.5v3.8M419.4 417.5v2.3M428.0 417.5v2.3M436.7 417.5v2.3M445.3 417.5v2.3M453.9 417.5v3.8" stroke="#111" stroke-width="0.9" fill="none"/>
<clipPath id="cx417"><rect x="300" y="417.5" width="155.59999999999997" height="20"/></clipPath>
<g clip-path="url(#cx417)">
<text x="323.9" y="426.7" font-size="5.3" text-anchor="middle" fill="#111" stroke="#111" stroke-width="0.22">0</text>
<text x="366.5" y="426.7" font-size="5.3" text-anchor="middle" fill="#111" stroke="#111" stroke-width="0.22">50</text>
<text x="409.2" y="427" font-size="5.3" text-anchor="middle" fill="#111" stroke="#111" stroke-width="0.22">100</text>
<text x="453" y="427" font-size="5.3" text-anchor="middle" fill="#111" stroke="#111" stroke-width="0.22">150</text>
</g>
<text x="318.9" y="417.5" font-size="5.7" text-anchor="middle" fill="#111" transform="rotate(-90 318.9 417.5)" stroke="#111" stroke-width="0.22">0</text>
<text font-size="6.3" fill="#111" stroke="#111" stroke-width="0.22" transform="translate(415.4 432.6) scale(1.13 1)">Channels</text>
<text x="407.8" y="335.6" font-size="11.6" font-weight="700" fill="#111" stroke="#111" stroke-width="0.3">G1: 56%</text>
<text x="407.8" y="348.8" font-size="11.6" font-weight="700" fill="#111" stroke="#111" stroke-width="0.3">G2: 8%</text>
<text x="415.6" y="361.8" font-size="11.6" font-weight="700" fill="#111" stroke="#111" stroke-width="0.3">S: 36%</text>
<text x="0" y="0" font-size="13" font-weight="700" text-anchor="middle" fill="#111" transform="translate(384 442.6) scale(0.735 1)">U343/Cyr61 Cells</text>
</g>
<g id="panelF">
<text x="288" y="464.6" font-size="11" font-weight="700" fill="#111" stroke="#111" stroke-width="0.45">F</text>
<rect x="339.5" y="547.02" width="34.10000000000002" height="32.78" fill="url(#xhatch)" stroke="#333" stroke-width="0.8"/>
<path d="M356.55 547.02V541.00M347.55 541.00h18" stroke="#444" stroke-width="0.9" fill="none"/>
<rect x="391.5" y="488.07" width="33.5" height="91.73" fill="#000" stroke="#333" stroke-width="0.8"/>
<path d="M408.25 488.07V476.34M399.25 476.34h18" stroke="#444" stroke-width="0.9" fill="none"/>
<rect x="442.2" y="501.3" width="35.0" height="78.5" fill="#808080" stroke="#333" stroke-width="0.8"/>
<path d="M459.70 501.30V491.98M450.70 491.98h18" stroke="#444" stroke-width="0.9" fill="none"/>
<rect x="321.5" y="459.5" width="173.0" height="120.29999999999995" fill="none" stroke="#606060" stroke-width="0.85"/>
<line x1="318.9" y1="579.8" x2="321.5" y2="579.8" stroke="#444" stroke-width="0.9"/>
<text x="318.2" y="582.0" font-size="6.2" text-anchor="end" fill="#222">0</text>
<line x1="318.9" y1="549.72" x2="321.5" y2="549.72" stroke="#444" stroke-width="0.9"/>
<text x="318.2" y="551.92" font-size="6.2" text-anchor="end" fill="#222">100</text>
<line x1="318.9" y1="519.65" x2="321.5" y2="519.65" stroke="#444" stroke-width="0.9"/>
<text x="318.2" y="521.85" font-size="6.2" text-anchor="end" fill="#222">200</text>
<line x1="318.9" y1="489.57" x2="321.5" y2="489.57" stroke="#444" stroke-width="0.9"/>
<text x="318.2" y="491.77" font-size="6.2" text-anchor="end" fill="#222">300</text>
<line x1="318.9" y1="459.5" x2="321.5" y2="459.5" stroke="#444" stroke-width="0.9"/>
<text x="318.2" y="461.7" font-size="6.2" text-anchor="end" fill="#222">400</text>
<text x="302.4" y="516.9" font-size="7.7" text-anchor="middle" fill="#111" transform="rotate(-90 302.4 516.9)" stroke="#111" stroke-width="0.12">COLONY COUNTS</text>
<text x="408" y="596.6" font-size="7.4" text-anchor="middle" fill="#222" letter-spacing="0.9">CELLS</text>
<rect x="332" y="465.7" width="12.6" height="3.6" fill="url(#xhatch)" stroke="#333" stroke-width="0.6"/>
<text x="347" y="469.8" font-size="6.6" fill="#222">U343/V</text>
<rect x="332" y="473.09999999999997" width="12.6" height="3.6" fill="#000" stroke="#333" stroke-width="0.6"/>
<text x="347" y="477.2" font-size="6.6" fill="#222">U343/Cyr61-1</text>
<rect x="332" y="480.5" width="12.6" height="3.6" fill="#808080" stroke="#333" stroke-width="0.6"/>
<text x="347" y="484.6" font-size="6.6" fill="#222">U343/Cyr61-2</text>
</g>
</svg>
</body>
</html>
